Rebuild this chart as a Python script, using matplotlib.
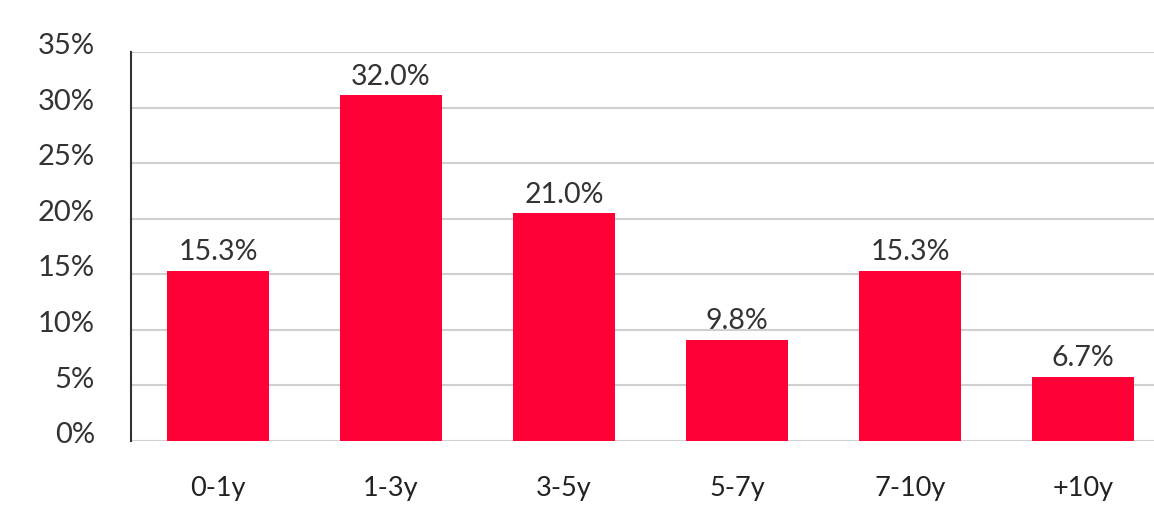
import matplotlib
matplotlib.use("Agg")
import matplotlib.pyplot as plt
import matplotlib.transforms as mtransforms
from matplotlib.ticker import FuncFormatter

# maturity buckets and bar heights (% of portfolio)
buckets = ["0-1y", "1-3y", "3-5y", "5-7y", "7-10y", "+10y"]
values = [15.3, 31.1, 20.5, 9.1, 15.3, 5.8]
bar_labels = ["15.3%", "32.0%", "21.0%", "9.8%", "15.3%", "6.7%"]
yticks = [0, 5, 10, 15, 20, 25, 30, 35]

plt.rcParams['font.family'] = ['Lato', 'DejaVu Sans']

fig = plt.figure(figsize=(11.54, 5.2), dpi=100)
ax = fig.add_axes([131 / 1154, 1 - 441 / 520, 1 - 131 / 1154, (441 - 52) / 520])

x = range(len(buckets))
bars = ax.bar(x, values, width=0.585, color="#FF0037", zorder=3)

for b, txt in zip(bars, bar_labels):
    ax.annotate(txt, (b.get_x() + b.get_width() / 2, b.get_height()),
                xytext=(0, 4), textcoords="offset points",
                ha="center", va="bottom", fontsize=20.5, color="#333333")

ax.set_xlim(-0.503, 5.41)
ax.set_ylim(0, 35)
ax.set_xticks(list(x))
ax.set_xticklabels(buckets, fontsize=19.5, color="#222222")
ax.set_yticks(yticks)
ax.yaxis.set_major_formatter(FuncFormatter(lambda v, p: f"{v:.0f}%"))
ax.tick_params(axis="y", length=0, pad=26, labelsize=21, labelcolor="#333333")
ax.tick_params(axis="x", length=0, pad=25)

# nudge y labels up a little, as in the original
off = mtransforms.ScaledTranslation(0, 6 / 72, fig.dpi_scale_trans)
for lab in ax.get_yticklabels():
    lab.set_transform(lab.get_transform() + off)

ax.grid(axis="y", color="#d0d0d0", linewidth=1.5, zorder=0)
for s in ["top", "right", "bottom"]:
    ax.spines[s].set_visible(False)
ax.spines["left"].set_color("#333333")
ax.spines["left"].set_linewidth(1.5)

fig.savefig("out.png", dpi=100)
